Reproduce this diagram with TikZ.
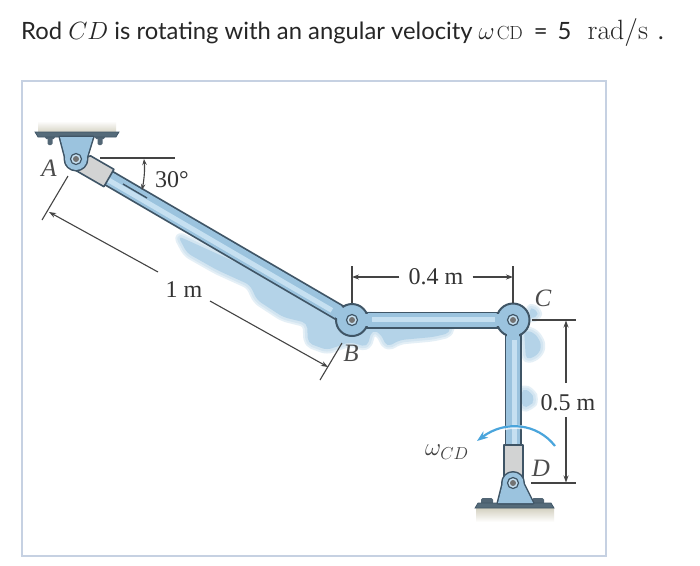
\documentclass[tikz,border=0pt]{standalone}
\usepackage[no-math]{fontspec}
\newfontfamily\latofont{Lato}
\newfontfamily\figfont{Liberation Serif}
\usetikzlibrary{arrows.meta,calc}
\definecolor{rodblue}{HTML}{9BC3DE}
\definecolor{rodlight}{HTML}{C6E0F1}
\definecolor{rodedge}{HTML}{3F5566}
\definecolor{sleeve}{HTML}{D2D3D3}
\definecolor{panel}{HTML}{C6D1E2}
\definecolor{dimline}{HTML}{444444}
\definecolor{smudge}{HTML}{B4D3E8}
\definecolor{spin}{HTML}{4AA5DC}
\definecolor{groundc}{HTML}{D3D0C0}
\tikzset{
  rodout/.style={draw=rodedge,line width=17pt},
  rodin/.style={draw=rodblue,line width=13.5pt},
  rodhi/.style={draw=rodlight,line width=5pt},
  joint/.style={circle,draw=rodedge,line width=2pt,fill=rodblue,minimum size=32pt,inner sep=0pt},
  pinout/.style={circle,draw=rodedge,line width=1.2pt,fill=rodlight,minimum size=11pt,inner sep=0pt},
  pincore/.style={circle,fill=black!55,minimum size=6pt,inner sep=0pt},
  sleevebox/.style={fill=sleeve,draw=rodedge,line width=1.6pt,line join=round},
  bracketline/.style={draw=rodedge,line width=3pt,line join=round},
  bracketfill/.style={fill=rodblue,draw=none},
  plate/.style={fill=black!45!rodblue,draw=rodedge,line width=.7pt},
  bolt/.style={fill=rodedge!90,draw=none,rounded corners=1.5pt},
  dim/.style={draw=dimline,line width=1.1pt},
  dima/.style={dim,-{Stealth[length=7pt,width=5pt]}},
  lab/.style={font=\figfont\fontsize{24}{26}\selectfont,text=black!80,inner sep=0pt},
  sym/.style={font=\figfont\itshape\fontsize{25}{26}\selectfont,text=black!70,inner sep=0pt},
  blobedge/.style={draw=smudge,opacity=.35,line join=round,rounded corners=5pt},
  blobcore/.style={fill=smudge,rounded corners=5pt},
}
\begin{document}
\begin{tikzpicture}[x=1pt,y=-1pt]
\useasboundingbox (0,0) rectangle (700,565);
\fill[white] (0,0) rectangle (700,565);
% title
\node[anchor=base west,inner sep=0pt,text=black!85,font=\latofont\fontsize{23.8}{28}\selectfont] (title) at (21,39)
  {Rod $CD$ is rotating with an angular velocity $\omega$\hspace{2pt}{\rmfamily\fontsize{19}{20}\selectfont CD}\hspace{11pt}=\hspace{10pt}5\hspace{16pt}\scalebox{1.12}{$\mathrm{rad/s}$}\hspace{10pt}.};
% panel
\draw[panel,line width=1.6pt] (22,81) rectangle (606,556);
% coordinates
\coordinate (A) at (76,159);
\coordinate (B) at (352,320);
\coordinate (C) at (513,320);
\coordinate (D) at (513,483);
% smudges
\def\blobA{(178,236) -- (187,253) -- (217,270) -- (250,285) -- (257,300) -- (283,317) -- (307,323) -- (308,343) -- (327,350) -- (350,342) -- (367,347) -- (372,330) -- (380,333) -- (387,347) -- (400,340) -- (433,337) -- (450,333) -- (450,320) -- (352,315) -- cycle}
\def\blobB{(524,330) -- (535,333) -- (542,345) -- (538,355) -- (526,360) -- cycle}
\def\blobC{(522,388) -- (531,392) -- (535,400) -- (530,406) -- (522,408) -- cycle}
\def\blobD{(530,306) -- (540,314) -- (530,320) -- cycle}
\foreach \blobpath in {\blobA,\blobB,\blobC,\blobD} {
  \draw[blobedge,line width=9pt] \blobpath;
  \draw[blobedge,line width=5pt] \blobpath;
  \fill[blobcore] \blobpath;
}
% ground shading
\shade[top color=white,bottom color=groundc] (38,121) rectangle (116,133);
\shade[top color=groundc,bottom color=white] (476,508) rectangle (554,522);
% rods
\draw[rodout] (A) -- (B);
\draw[rodout] (B) -- (C);
\draw[rodout] (C) -- (513,445);
\draw[rodin] (A) -- (B);
\draw[rodin] (B) -- (C);
\draw[rodin] (C) -- (513,445);
\draw[rodhi] ($(A)!.1!(B)+(-.8,1.6)$) -- ($(A)!.93!(B)+(-.8,1.6)$);
\draw[rodhi] ($(B)+(18,-1)$) -- ($(C)+(-18,-1)$);
\draw[rodhi] ($(C)+(1,18)$) -- (514,445);
% sleeve A
\begin{scope}[shift={(A)},rotate=-30]
  \path[sleevebox] (11,-10) -- (38,-10) -- (38,10) -- (-6,10) -- cycle;
\end{scope}
% support A
\fill[bolt] (45,136) rectangle (55,139);
\fill[bolt] (47.5,137) rectangle (52.5,145);
\fill[bolt] (95,136) rectangle (105,139);
\fill[bolt] (97.5,137) rectangle (102.5,145);
\draw[plate] (35,132) -- (119,132) -- (116,137) -- (38,137) -- cycle;
\path[bracketline] (60,137) -- (93,137) -- (86,160) -- (66,160) -- cycle;
\draw[bracketline] (A) circle[radius=11pt];
\fill[bracketfill] (60,137) -- (93,137) -- (86,160) -- (66,160) -- cycle;
\fill[bracketfill] (A) circle[radius=11pt];
\node[pinout] (pa) at (A) {};
\node[pincore] at (A) {};
% joints
\node[joint] (jb) at (B) {};
\node[joint,minimum size=33pt] (jc) at (C) {};
\draw[rodin,line width=12pt] (jc.center) -- (513,340);
\draw[rodin,line width=12pt] (jc.center) -- (495,320);
\draw[rodin,line width=12pt] (jb.center) -- (372,320);
\draw[rodin,line width=12pt] (jb.center) -- ($(B)!18pt!(A)$);
\node[pinout] (pb) at (B) {};
\node[pincore] at (B) {};
\node[pinout] (pc) at (C) {};
\node[pincore] at (C) {};
% sleeve and support D
\path[sleevebox] (504,445) rectangle (523,487);
\fill[bolt] (481,498) rectangle (493,504);
\fill[bolt] (532,498) rectangle (544,504);
\draw[plate] (478,503) -- (551,503) -- (554,508) -- (475,508) -- cycle;
\path[bracketline] (498,503) -- (533,503) -- (523,483) -- (503,483) -- cycle;
\draw[bracketline] (D) circle[radius=10.5pt];
\fill[bracketfill] (498,503) -- (533,503) -- (523,483) -- (503,483) -- cycle;
\fill[bracketfill] (D) circle[radius=10.5pt];
\node[pinout] (pd) at (D) {};
\node[pincore] at (D) {};
% omega arrow
\coordinate (w1) at (555,446);
\coordinate (w2) at (477,441);
\draw[white,line width=4pt,opacity=.7] (w1) .. controls (537,423) and (505,420) .. (w2);
\draw[spin,line width=2.2pt,-{Stealth[length=11pt,width=8pt]}] (w1) .. controls (537,423) and (505,420) .. (w2);
% labels
\node[sym] (la) at (49,168) {A};
\node[sym] (lb) at (351,353) {B};
\node[sym] (lc) at (543,298) {C};
\node[sym] (ld) at (541,468) {D};
\node[text=black!75,font=\figfont\fontsize{25}{26}\selectfont,inner sep=0pt] (lw) at (447,452) {$\omega_{CD}$};
\node[lab] (l30) at (172,180) {30°};
\node[lab] (l1) at (184,290) {1 m};
\node[lab,inner xsep=9pt] (l04) at (436,277) {0.4 m};
\node[lab] (l05) at (568,403) {0.5 m};
% 30 degree dimension
\coordinate (t1) at (100,158);
\coordinate (t2) at (175,158);
\coordinate (t3) at (144,159);
\coordinate (t4) at (142,190);
\coordinate (t5) at (123,184);
\coordinate (t6) at (147,198);
\draw[dim] (t1) -- (t2);
\draw[dim,line width=1.4pt,rodedge] (t5) -- (t6);
\draw[dim,{Stealth[length=6pt,width=4.5pt]}-{Stealth[length=6pt,width=4.5pt]}] (t3) .. controls (145,170) and (144,180) .. (t4);
% 1 m dimension
\coordinate (e1) at (68,176);
\coordinate (e2) at (42,220);
\coordinate (e3) at (342,343);
\coordinate (e4) at (320,380);
\coordinate (a1) at (49,212);
\coordinate (a2) at (328,367);
\coordinate (a3) at (158,272);
\coordinate (a4) at (210,301);
\draw[dim] (e1) -- (e2);
\draw[dim] (e3) -- (e4);
\draw[dima] (a3) -- (a1);
\draw[dima] (a4) -- (a2);
% 0.4 m dimension
\coordinate (f1) at (352,266);
\coordinate (f2) at (352,303);
\coordinate (f3) at (513,266);
\coordinate (f4) at (513,303);
\draw[dim] (f1) -- (f2);
\draw[dim] (f3) -- (f4);
\draw[dima] (l04) -- (f2 |- l04);
\draw[dima] (l04) -- (f3 |- l04);
% 0.5 m dimension
\coordinate (g1) at (532,320);
\coordinate (g2) at (576,320);
\coordinate (g3) at (531,483);
\coordinate (g4) at (576,483);
\coordinate (h1) at (566,383);
\coordinate (h2) at (566,320.5);
\coordinate (h3) at (566,417);
\coordinate (h4) at (566,482.5);
\draw[dim] (g1) -- (g2);
\draw[dim] (g3) -- (g4);
\draw[dima] (h1) -- (h2);
\draw[dima] (h3) -- (h4);
\end{tikzpicture}
\end{document}
